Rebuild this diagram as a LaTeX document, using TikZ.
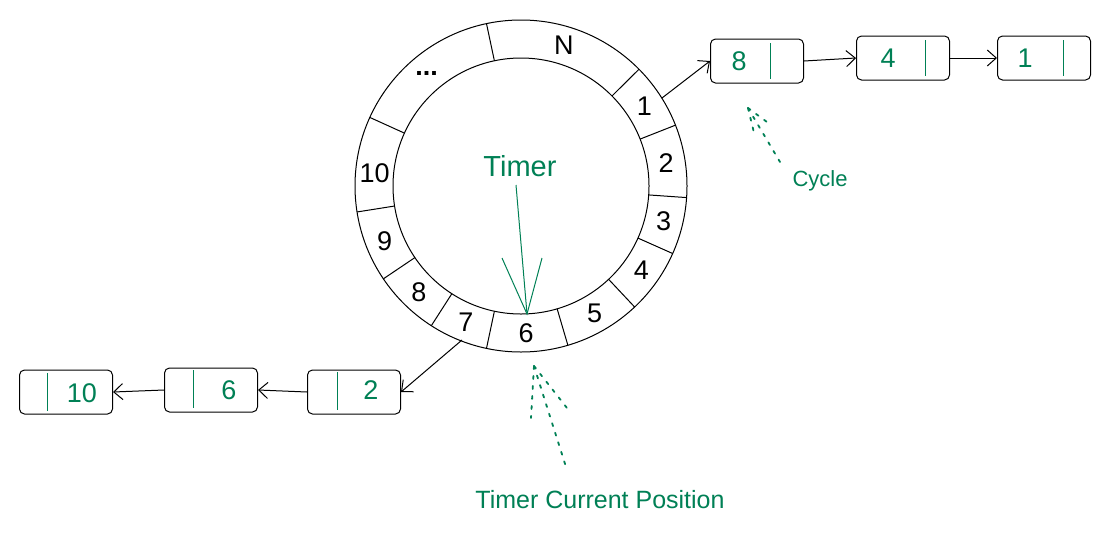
\documentclass[tikz,border=0pt]{standalone}
\usepackage{fontspec}
\setmainfont{Liberation Sans}
\usetikzlibrary{arrows.meta}
\definecolor{gr}{RGB}{0,128,85}
\begin{document}
\begin{tikzpicture}[x=1pt,y=-1pt,line width=1pt,
  box/.style={draw,rounded corners=5pt,minimum width=93pt,minimum height=44pt,inner sep=0},
  lbl/.style={font=\fontsize{27}{27}\selectfont},
  gt/.style={gr,font=\fontsize{27}{27}\selectfont},
  arr/.style={-{Straight Barb[length=9pt,width=16pt,line width=1pt]}},
  dot/.style={gr,line width=1.8pt,dash pattern=on 3pt off 7pt,line cap=round}]
\useasboundingbox (0,0) rectangle (1110,536);
\coordinate (c) at (521,186);
\draw (c) circle[radius=166];
\draw (c) circle[radius=128];
\foreach \a in {102,44.7,21.5,-4,-24,-46.8,-73.6,-102,-122.7,-146,-171,155.6}
  \draw ([shift={(-\a:128)}]c) -- ([shift={(-\a:166)}]c);
\foreach \a/\t in {73/N,33/1,9/2,-14/3,-35/4,-60/5,-88/6,-112/7,-134/8,-158/9,175/10}
  \node[lbl] at ([shift={(-\a:147)}]c) {\t};
\node[font=\fontsize{27}{27}\selectfont\bfseries] at ([shift={(-130:147)}]c) {...};
\node[box] (b8) at (757,61) {};
\node[box] (b4) at (903,58) {};
\node[box] (b1) at (1044,58) {};
\node[box] (b2) at (354,392) {};
\node[box] (b6) at (211,390) {};
\node[box] (b10) at (66,392) {};
\node[gt] at (739,61) {8}; \draw[gr] (770,43)--(770,79);
\node[gt] at (888,58) {4}; \draw[gr] (925,40)--(925,76);
\node[gt] at (1025,58) {1}; \draw[gr] (1063,40)--(1063,76);
\node[gt] at (371,390) {2}; \draw[gr] (337,372)--(337,410);
\node[gt] at (229,390) {6}; \draw[gr] (193,370)--(193,408);
\node[gt] at (82,393) {10}; \draw[gr] (47,373)--(47,411);
\coordinate (r1) at (662,98);
\coordinate (r7) at (462,340);
\draw[arr] (r1) -- (b8.west);
\draw[arr] (b8.east) -- (b4.west);
\draw[arr] (b4.east) -- (b1.west);
\draw[arr] (r7) -- (b2.east);
\draw[arr] (b2.west) -- (b6.east);
\draw[arr] (b6.west) -- (b10.east);
\node[gt,font=\fontsize{29}{29}\selectfont] (tm) at (520,166) {Timer};
\coordinate (tip) at (527,314);
\draw[gr] (516,185) -- (tip);
\draw[gr] (502,258) -- (tip) -- (542,258);
\node[gr,font=\fontsize{22}{22}\selectfont] (cy) at (820,181) {Cycle};
\coordinate (ca) at (748,108);
\draw[dot] (ca) -- (780,162);
\draw[dot] (ca) -- (755,137);
\draw[dot] (ca) -- (771,125);
\node[gr,font=\fontsize{25}{25}\selectfont] (tcp) at (600,500) {Timer Current Position};
\coordinate (ta) at (534,366);
\draw[dot] (ta) -- (566,467);
\draw[dot] (ta) -- (531,418);
\draw[dot] (ta) -- (567,408);
\end{tikzpicture}
\end{document}
